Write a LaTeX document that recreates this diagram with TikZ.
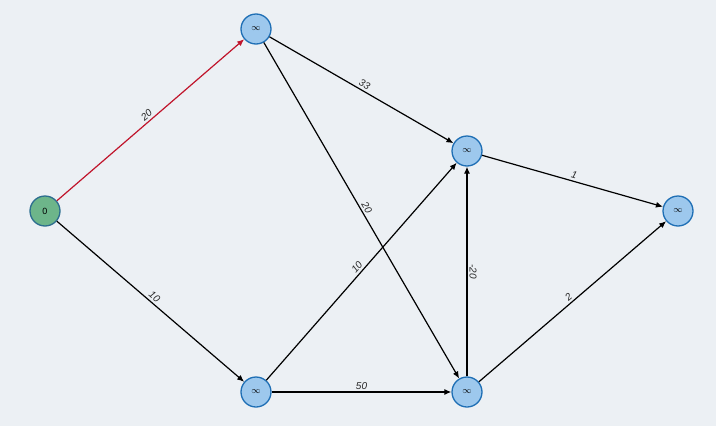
\documentclass[tikz,border=0pt]{standalone}
\usepackage{fontspec}
\setmainfont{Liberation Sans}
\usetikzlibrary{arrows.meta}
\definecolor{bg}{HTML}{ECF0F4}
\definecolor{nfill}{HTML}{9DC8ED}
\definecolor{nborder}{HTML}{1F6FB5}
\definecolor{gfill}{HTML}{6DB58A}
\definecolor{gborder}{HTML}{2D6E8F}
\definecolor{redge}{HTML}{C0142B}
\tikzset{
  vert/.style={circle,draw=nborder,fill=nfill,line width=1.3pt,minimum size=30pt,inner sep=0pt,font=\fontsize{9}{9}\selectfont},
  src/.style={vert,fill=gfill,draw=gborder},
  edge/.style={-{Latex[length=7pt,width=6pt]},line width=1.2pt,black},
  lbl/.style={font=\fontsize{10}{10}\selectfont\itshape,text=black!85,sloped,above,inner sep=2pt}
}
\begin{document}
\begin{tikzpicture}[x=1pt,y=-1pt]
\fill[bg] (0,0) rectangle (716,426);
\useasboundingbox (0,0) rectangle (716,426);
\node[src] (a) at (45,211) {0};
\node[vert] (b) at (256,29) {$\infty$};
\node[vert] (c) at (467,151) {$\infty$};
\node[vert] (d) at (678,211) {$\infty$};
\node[vert] (e) at (256,392) {$\infty$};
\node[vert] (f) at (467,392) {$\infty$};
\draw[edge,redge] (a) -- node[lbl]{20} (b);
\draw[edge] (a) -- node[lbl]{10} (e);
\draw[edge] (b) -- node[lbl]{33} (c);
\draw[edge] (b) -- node[lbl]{20} (f);
\draw[edge] (e) -- node[lbl]{10} (c);
\draw[edge] (e) -- node[lbl]{50} (f);
\draw[edge] (f) -- node[midway,rotate=-90,anchor=south,inner sep=2pt,text=black!85,font=\fontsize{10}{10}\selectfont\itshape]{-20} (c);
\draw[edge] (c) -- node[lbl]{1} (d);
\draw[edge] (f) -- node[lbl]{2} (d);
\end{tikzpicture}
\end{document}
